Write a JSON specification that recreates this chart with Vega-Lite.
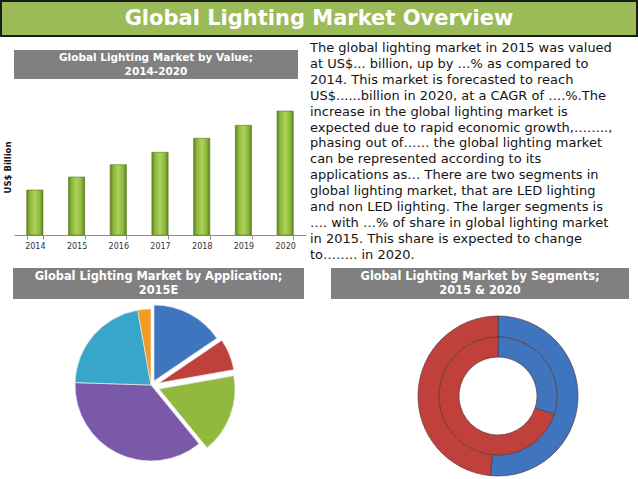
{
  "$schema": "https://vega.github.io/schema/vega-lite/v6.json",
  "padding": 0,
  "background": "white",
  "config": {"view": {"stroke": null}, "font": "DejaVu Sans"},
  "columns": 1,
  "align": "none",
  "spacing": 0,
  "concat": [
    {
      "width": 636,
      "height": 35,
      "view": {"fill": "#9BBB59", "stroke": "#1c1c1c", "strokeWidth": 2},
      "data": {"values": [{"t": "Global Lighting Market Overview"}]},
      "mark": {"type": "text", "fontWeight": "bold", "fontSize": 21, "color": "white", "baseline": "middle"},
      "encoding": {"text": {"field": "t"}}
    },
    {
      "columns": 4,
      "align": "none",
      "spacing": 0,
      "concat": [
        {
          "columns": 1,
          "align": "none",
          "spacing": 0,
          "concat": [
            {"width": 13, "height": 63, "data": {"values": [{}]}, "mark": {"type": "text", "text": ""}, "encoding": {}},
            {
              "width": 13,
              "height": 135,
              "data": {"values": [{"t": "US$ Billion"}]},
              "mark": {"type": "text", "angle": 270, "fontWeight": "bold", "fontSize": 8.5, "color": "#111111", "baseline": "middle", "align": "center"},
              "encoding": {"text": {"field": "t"}}
            }
          ]
        },
        {
          "columns": 1,
          "align": "none",
          "spacing": 0,
          "concat": [
            {"width": 1, "height": 13, "data": {"values": [{}]}, "mark": {"type": "text", "text": ""}, "encoding": {}},
            {
              "width": 284,
              "height": 29,
              "view": {"fill": "#808080"},
              "data": {"values": [{"t": "Global Lighting Market by Value;\n2014-2020"}]},
              "mark": {"type": "text", "lineBreak": "\n", "fontWeight": "bold", "fontSize": 10.5, "lineHeight": 14, "color": "white", "baseline": "middle", "dy": -7},
              "encoding": {"text": {"field": "t"}}
            },
            {"width": 1, "height": 21, "data": {"values": [{}]}, "mark": {"type": "text", "text": ""}, "encoding": {}},
            {
              "width": 292,
              "height": 135,
              "data": {"values": [
                {"year": "2014", "value": 45},
                {"year": "2015", "value": 58},
                {"year": "2016", "value": 70.3},
                {"year": "2017", "value": 82.7},
                {"year": "2018", "value": 96.7},
                {"year": "2019", "value": 109.7},
                {"year": "2020", "value": 124}
              ]},
              "mark": {
                "type": "bar",
                "stroke": "#5d7d22",
                "strokeWidth": 0.6,
                "color": {
                  "gradient": "linear", "x1": 0, "y1": 0, "x2": 1, "y2": 0,
                  "stops": [
                    {"offset": 0, "color": "#5f8020"},
                    {"offset": 0.2, "color": "#8cb83a"},
                    {"offset": 0.5, "color": "#aed35c"},
                    {"offset": 0.8, "color": "#8cb83a"},
                    {"offset": 1, "color": "#5f8020"}
                  ]
                }
              },
              "encoding": {
                "x": {
                  "field": "year", "type": "ordinal",
                  "scale": {"paddingInner": 0.61, "paddingOuter": 0.305},
                  "axis": {"title": null, "labelAngle": 0, "labelFontSize": 8, "labelColor": "#333333", "domainColor": "#8c8c8c", "tickColor": "#8c8c8c", "tickSize": 4, "tickBand": "extent", "labelPadding": 3, "grid": false}
                },
                "y": {
                  "field": "value", "type": "quantitative",
                  "scale": {"domain": [0, 135]},
                  "axis": null
                }
              }
            }
          ]
        },
        {"width": 3, "height": 224, "data": {"values": [{}]}, "mark": {"type": "text", "text": ""}, "encoding": {}},
        {
          "width": 2,
          "height": 224,
          "data": {"values": [{"t": "The global lighting market in 2015 was valued\nat US$... billion, up by …% as compared to\n2014. This market is forecasted to reach\nUS$......billion in 2020, at a CAGR of ….%.The\nincrease in the global lighting market is\nexpected due to rapid economic growth,……..,\nphasing out of…… the global lighting market\ncan be represented according to its\napplications as… There are two segments in\nglobal lighting market, that are LED lighting\nand non LED lighting. The larger segments is\n…. with …% of share in global lighting market\nin 2015. This share is expected to change\nto…….. in 2020."}]},
          "mark": {"type": "text", "align": "left", "baseline": "middle", "lineBreak": "\n", "fontSize": 13, "lineHeight": 15.9, "color": "#141414", "dy": -100.9},
          "encoding": {"text": {"field": "t"}}
        }
      ]
    },
    {
      "columns": 4,
      "align": "none",
      "spacing": 0,
      "concat": [
        {"width": 12, "height": 1, "data": {"values": [{}]}, "mark": {"type": "text", "text": ""}, "encoding": {}},
        {
          "columns": 1,
          "align": "none",
          "spacing": 0,
          "concat": [
            {
              "width": 291,
              "height": 31,
              "view": {"fill": "#808080"},
              "data": {"values": [{"t": "Global Lighting Market by Application;\n2015E"}]},
              "mark": {"type": "text", "lineBreak": "\n", "fontWeight": "bold", "fontSize": 11.4, "lineHeight": 13.5, "color": "white", "baseline": "middle", "dy": -6.5},
              "encoding": {"text": {"field": "t"}}
            },
            {
              "width": 276,
              "height": 172,
              "data": {"values": [
                {"app": "Residential", "o": 1, "v": 15.5},
                {"app": "Commercial", "o": 2, "v": 6.7},
                {"app": "Industrial", "o": 3, "v": 16.9},
                {"app": "Outdoor", "o": 4, "v": 36.4},
                {"app": "Automotive", "o": 5, "v": 21.7},
                {"app": "Others", "o": 6, "v": 2.8}
              ]},
              "transform": [{"stack": "v", "groupby": [], "sort": [{"field": "o", "order": "ascending"}], "as": ["s0", "s1"]}],
              "encoding": {
                "theta": {"field": "s0", "type": "quantitative", "scale": {"domain": [0, 100]}},
                "theta2": {"field": "s1"},
                "color": {
                  "field": "app", "type": "nominal", "legend": null,
                  "scale": {
                    "domain": ["Residential", "Commercial", "Industrial", "Outdoor", "Automotive", "Others"],
                    "range": ["#3f74bf", "#c0413c", "#90b93e", "#7a59a8", "#37a6c8", "#f39a22"]
                  }
                }
              },
              "layer": [
                {"transform": [{"filter": "datum.o >= 4"}], "mark": {"type": "arc", "radius": 76, "stroke": "#e8e8e8", "strokeWidth": 0.7}},
                {"transform": [{"filter": "datum.o == 1"}], "mark": {"type": "arc", "radius": 76, "xOffset": 3, "yOffset": -4, "stroke": "#e8e8e8", "strokeWidth": 0.7}},
                {"transform": [{"filter": "datum.o == 2"}], "mark": {"type": "arc", "radius": 76, "xOffset": 8, "yOffset": -2, "stroke": "#e8e8e8", "strokeWidth": 0.7}},
                {"transform": [{"filter": "datum.o == 3"}], "mark": {"type": "arc", "radius": 76, "xOffset": 8, "yOffset": 4, "stroke": "#e8e8e8", "strokeWidth": 0.7}}
              ]
            }
          ]
        },
        {"width": 27, "height": 1, "data": {"values": [{}]}, "mark": {"type": "text", "text": ""}, "encoding": {}},
        {
          "columns": 1,
          "align": "none",
          "spacing": 0,
          "concat": [
            {
              "width": 298,
              "height": 31,
              "view": {"fill": "#808080"},
              "data": {"values": [{"t": "Global Lighting Market by Segments;\n2015 & 2020"}]},
              "mark": {"type": "text", "lineBreak": "\n", "fontWeight": "bold", "fontSize": 11.4, "lineHeight": 13.5, "color": "white", "baseline": "middle", "dy": -6.5},
              "encoding": {"text": {"field": "t"}}
            },
            {
              "columns": 2,
              "align": "none",
              "spacing": 0,
              "concat": [
                {"width": 84.5, "height": 1, "data": {"values": [{}]}, "mark": {"type": "text", "text": ""}, "encoding": {}},
                {
                  "width": 160,
                  "height": 182,
                  "data": {"values": [
                    {"year": "2015", "seg": "LED", "o": 1, "v": 30},
                    {"year": "2015", "seg": "Non-LED", "o": 2, "v": 70},
                    {"year": "2020", "seg": "LED", "o": 1, "v": 51.5},
                    {"year": "2020", "seg": "Non-LED", "o": 2, "v": 48.5}
                  ]},
                  "transform": [{"stack": "v", "groupby": ["year"], "sort": [{"field": "o", "order": "ascending"}], "as": ["s0", "s1"]}],
                  "encoding": {
                    "theta": {"field": "s0", "type": "quantitative", "scale": {"domain": [0, 100]}},
                    "theta2": {"field": "s1"},
                    "color": {
                      "field": "seg", "type": "nominal", "legend": null,
                      "scale": {"domain": ["LED", "Non-LED"], "range": ["#4a86d2", "#d44644"]}
                    }
                  },
                  "layer": [
                    {"transform": [{"filter": "datum.year == '2020'"}], "mark": {"type": "arc", "radius": 80, "radius2": 59, "stroke": "#5a3a3a", "strokeWidth": 0.7}},
                    {"transform": [{"filter": "datum.year == '2015'"}], "mark": {"type": "arc", "radius": 59, "radius2": 39, "stroke": "#5a3a3a", "strokeWidth": 0.7}}
                  ]
                }
              ]
            }
          ]
        }
      ]
    }
  ]
}
